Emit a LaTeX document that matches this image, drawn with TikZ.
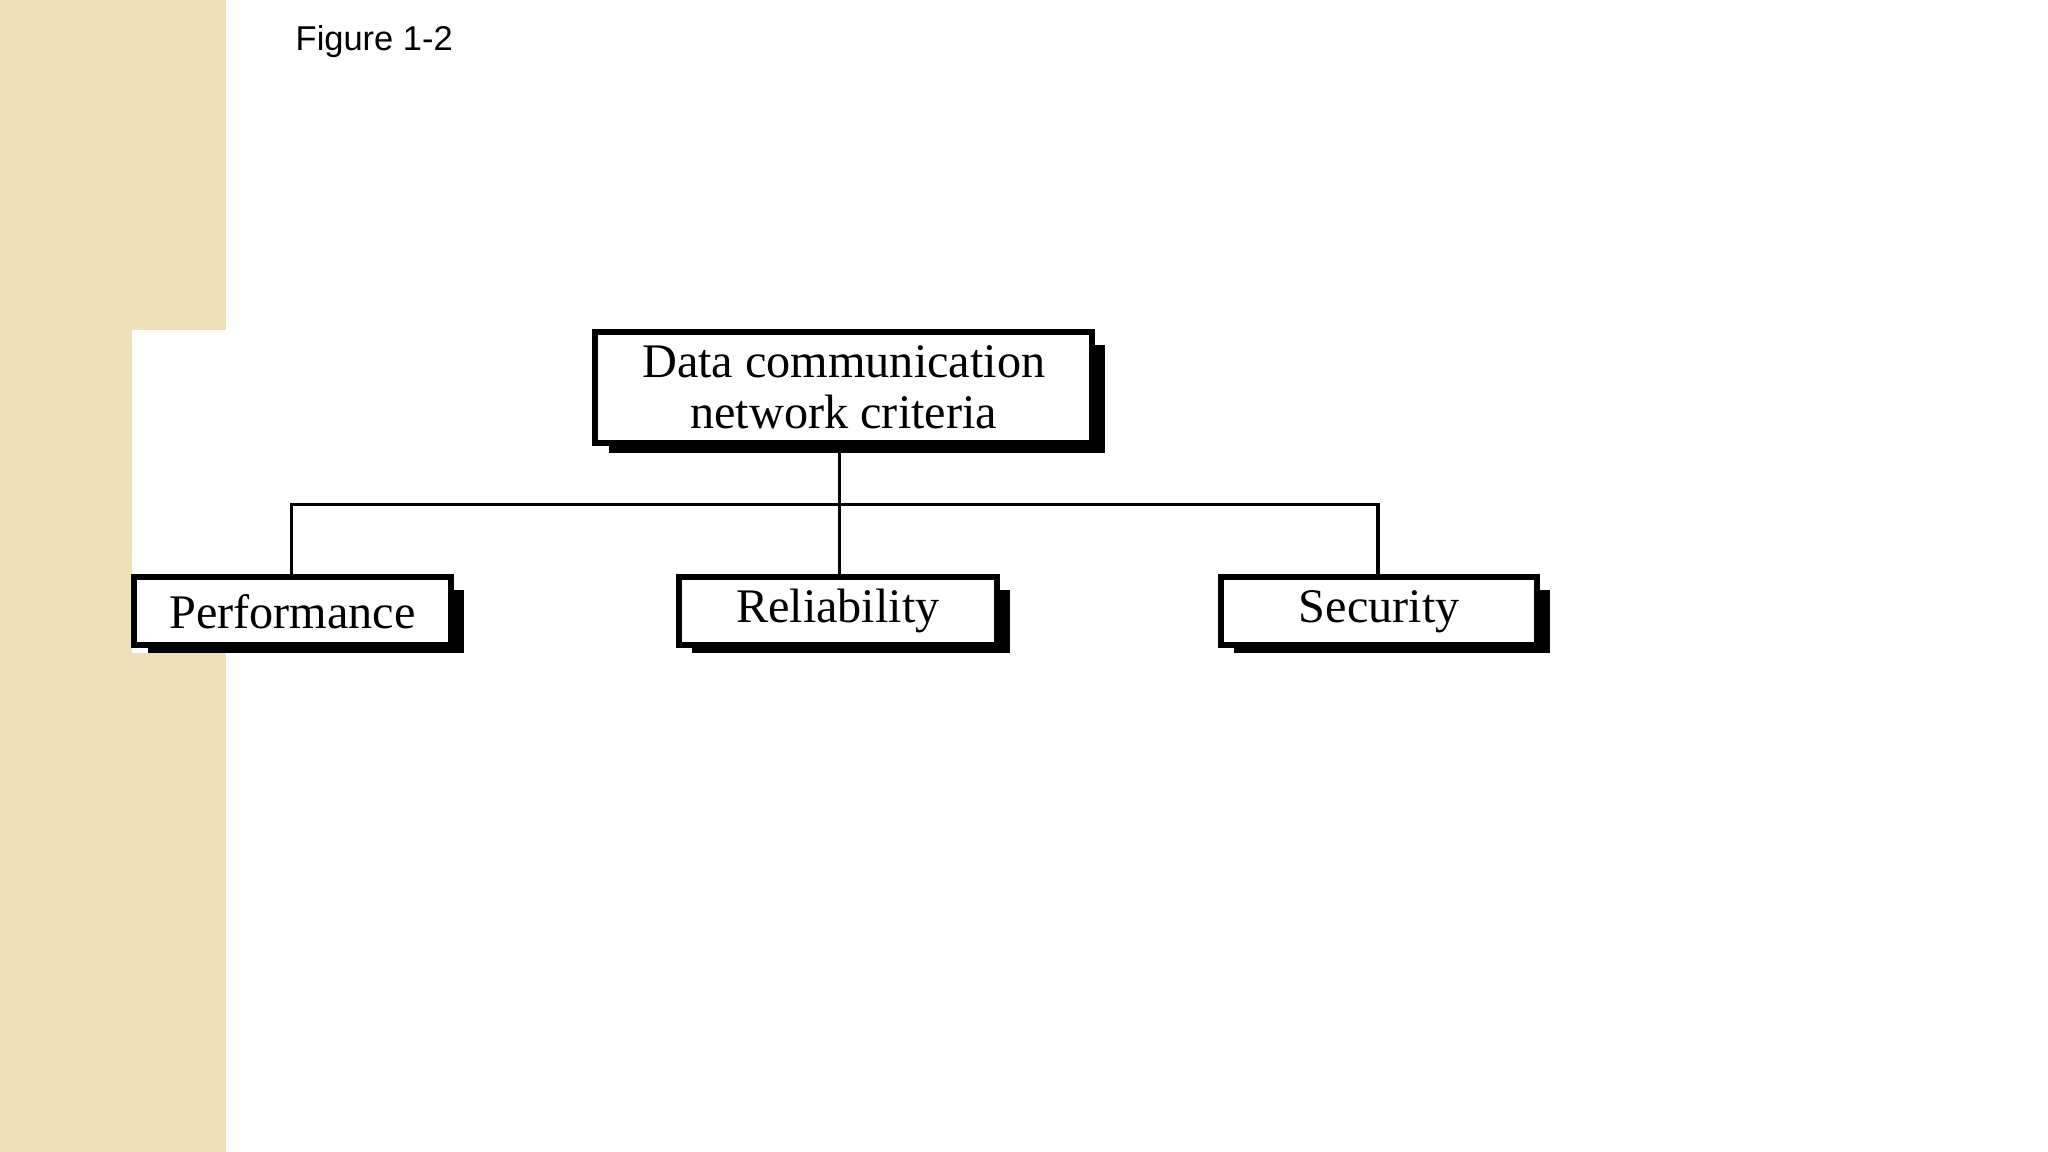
\documentclass[tikz,border=0pt]{standalone}
\usepackage{fontspec}
\setmainfont{Liberation Serif}
\newfontfamily\figsans{Liberation Sans}
\definecolor{beige}{RGB}{240,224,184}
\tikzset{
  px/.style={x=0.01cm,y=-0.01cm},
  critbox/.style={draw=black,line width=1.3pt,fill=white,inner sep=0pt,font=\fontsize{10.5}{11}\selectfont,align=center},
  shadowbox/.style={fill=black},
  link/.style={draw=black,line width=0.7pt}
}
\begin{document}
\begin{tikzpicture}[px]
\useasboundingbox (0,0) rectangle (1568,882);
\fill[white] (0,0) rectangle (1568,882);
\fill[beige] (0,0) rectangle (173,882);
\fill[white] (101,253) rectangle (173,500);
\node[anchor=west,font=\figsans\fontsize{7.5}{9}\selectfont] (fig) at (214,32) {Figure 1-2};
% shadows
\fill[shadowbox] (466,264) rectangle (846,347);
\fill[shadowbox] (113,452) rectangle (355,500);
\fill[shadowbox] (530,452) rectangle (773,500);
\fill[shadowbox] (945,452) rectangle (1187,500);
\node[critbox,minimum width=3.8cm,minimum height=0.85cm] (top) at (646,296.5) {Data communication\\network criteria};
\node[critbox,minimum width=2.42cm,minimum height=0.52cm] (perf) at (224,468) {Performance};
\node[critbox,minimum width=2.43cm,minimum height=0.52cm] (rel) at (641.5,468) {Reliability};
\node[critbox,minimum width=2.42cm,minimum height=0.52cm] (sec) at (1056,468) {Security};
\coordinate (mid) at (643,386);
\draw[link] (top.south -| mid) -- (rel.north -| mid);
\draw[link] (perf.north -| 223,0) |- (mid) -| (sec.north -| 1055,0);
\end{tikzpicture}
\end{document}
